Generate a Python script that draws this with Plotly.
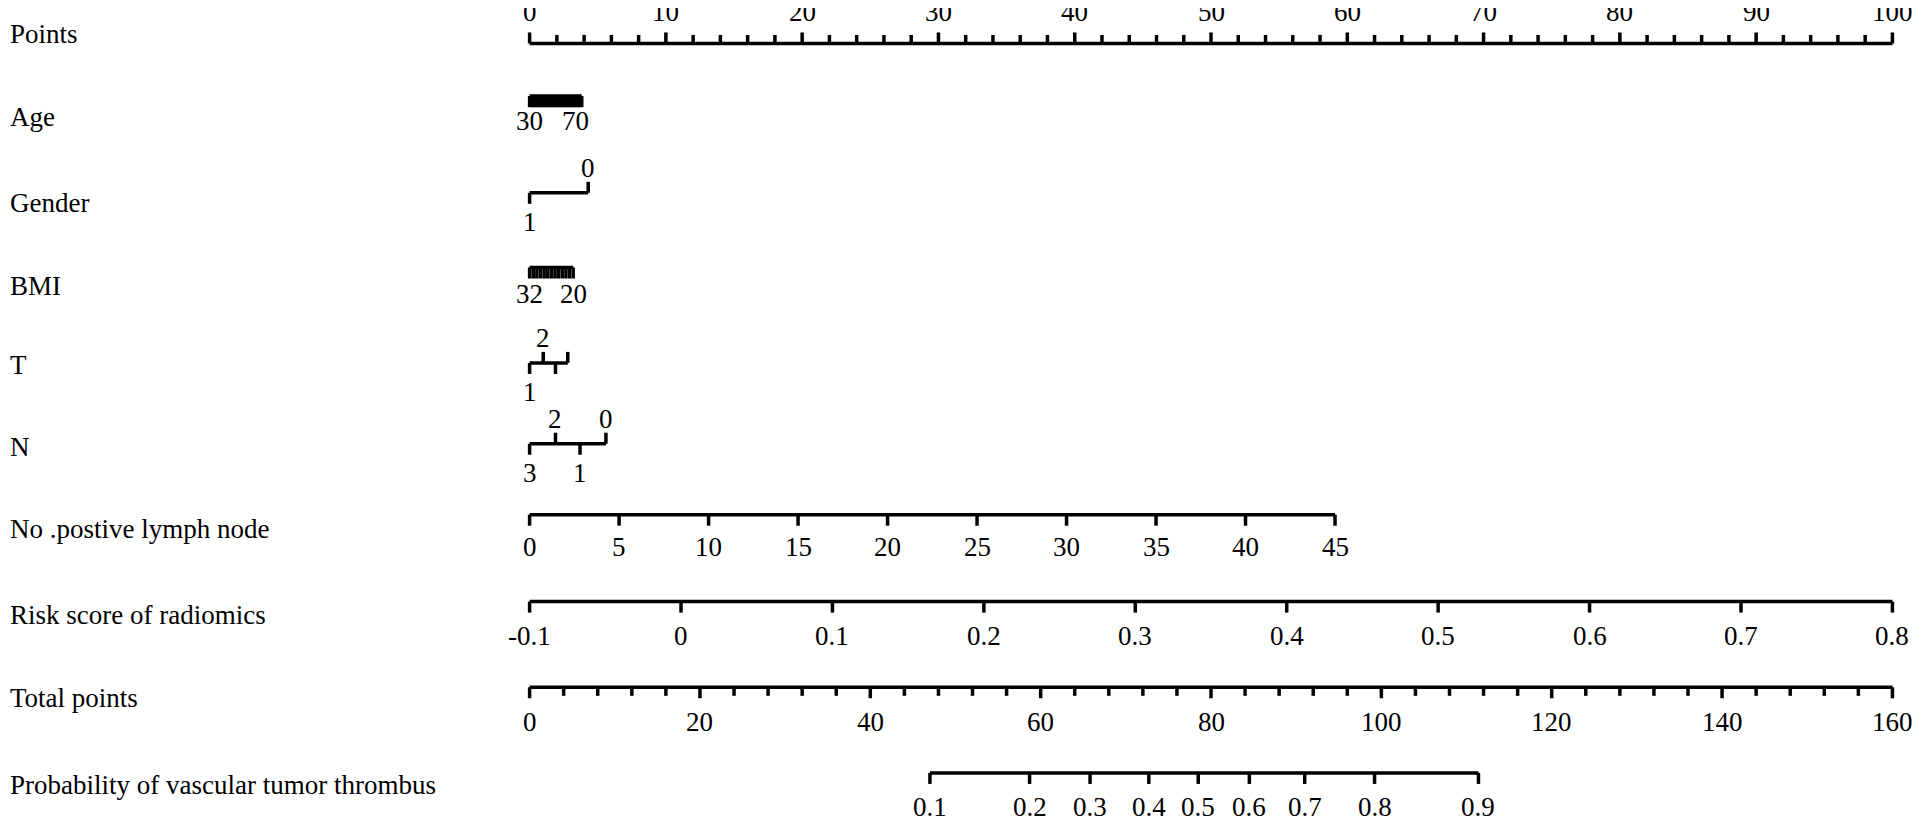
import plotly.graph_objects as go

# ---- data ----
row_names = ["Points", "Age", "Gender", "BMI", "T", "N", "No .postive lymph node",
             "Risk score of radiomics", "Total points", "Probability of vascular tumor thrombus"]

points_ticks = list(range(0, 101, 10))
points_minor = list(range(0, 101, 2))

age_vals = list(range(30, 76))
age_labels = [30, 70]
age_pts_per_year = 3.4 / 40

gender_vals = [1, 0]
gender_pts = [0, 4.3]

bmi_vals = list(range(32, 19, -1))
bmi_labels = [32, 20]
bmi_pts_per_unit = 3.2 / 12

t_vals = [1, 2, 3, 4]
t_pts = [0, 1.0, 1.9, 2.8]
t_shown = [1, 2]

n_vals = [3, 2, 1, 0]
n_pts = [0, 1.9, 3.7, 5.6]

lymph_ticks = list(range(0, 46, 5))
lymph_max_pts = 59.1

risk_ticks = [-0.1, 0, 0.1, 0.2, 0.3, 0.4, 0.5, 0.6, 0.7, 0.8]

total_ticks = list(range(0, 161, 20))
total_minor = list(range(0, 161, 4))

prob_vals = [0.1, 0.2, 0.3, 0.4, 0.5, 0.6, 0.7, 0.8, 0.9]
prob_total = [47.0, 58.7, 65.8, 72.7, 78.5, 84.5, 91.0, 99.2, 111.4]

row_y = [35, 78, 157, 218, 296, 362, 420, 491, 561, 631]
name_y = [27, 95, 165, 233, 298, 365, 432, 502, 570, 641]

# ---- build ----
SHIFT = 6
fig = go.Figure()
shapes, ann = [], []
FONT = dict(family="Liberation Serif", size=27, color="black")
LW = 3.5
TL = 9

def Y(y):
    return y - SHIFT

def axis_line(x0, x1, y):
    fig.add_trace(go.Scatter(x=[x0, x1], y=[Y(y), Y(y)], mode="lines",
                             line=dict(color="black", width=LW), hoverinfo="skip", showlegend=False))

def tick(x, y, up, length=TL):
    y2 = y - length if up else y + length
    shapes.append(dict(type="line", x0=x, x1=x, y0=Y(y), y1=Y(y2), xref="x", yref="y",
                       line=dict(color="black", width=LW)))

def label(x, y, txt, up, off=None):
    if off is None:
        off = 20 if up else 24
    ann.append(dict(x=x, y=Y(y - off if up else y + off), text=str(txt), showarrow=False,
                    xref="x", yref="y", font=FONT, xanchor="center", yanchor="middle"))

# Points
y = row_y[0]
axis_line(0, 100, y)
for v in points_minor:
    tick(v, y, True, TL if v % 10 == 0 else 7)
for v in points_ticks:
    label(v, y, v, True, 26)

# Age
y = row_y[1]
axis_line(0, (age_vals[-1] - 30) * age_pts_per_year, y)
for v in age_vals:
    tick((v - 30) * age_pts_per_year, y, False)
for v in age_labels:
    label((v - 30) * age_pts_per_year, y, v, False, 20)

# Gender
y = row_y[2]
axis_line(gender_pts[0], gender_pts[-1], y)
for i, (v, p) in enumerate(zip(gender_vals, gender_pts)):
    up = i % 2 == 1
    tick(p, y, up)
    label(p, y, v, up)

# BMI
y = row_y[3]
axis_line(0, (32 - bmi_vals[-1]) * bmi_pts_per_unit, y)
for v in bmi_vals:
    tick((32 - v) * bmi_pts_per_unit, y, False)
for v in bmi_labels:
    label((32 - v) * bmi_pts_per_unit, y, v, False, 22)

# T
y = row_y[4]
axis_line(t_pts[0], t_pts[-1], y)
for i, (v, p) in enumerate(zip(t_vals, t_pts)):
    up = i % 2 == 1
    tick(p, y, up)
    if v in t_shown:
        label(p, y, v, up)

# N
y = row_y[5]
axis_line(n_pts[0], n_pts[-1], y)
for i, (v, p) in enumerate(zip(n_vals, n_pts)):
    up = i % 2 == 1
    tick(p, y, up)
    label(p, y, v, up)

# Lymph nodes
y = row_y[6]
axis_line(0, lymph_max_pts, y)
for v in lymph_ticks:
    p = v / 45 * lymph_max_pts
    tick(p, y, False)
    label(p, y, v, False, 26)

# Risk score
y = row_y[7]
axis_line(0, 100, y)
for v in risk_ticks:
    p = (v + 0.1) / 0.9 * 100
    tick(p, y, False)
    label(p, y, f"{v:g}", False, 28)

# Total points
y = row_y[8]
axis_line(0, 100, y)
for v in total_minor:
    tick(v / 1.6, y, False, TL if v % 20 == 0 else 7)
for v in total_ticks:
    label(v / 1.6, y, v, False, 28)

# Probability
y = row_y[9]
axis_line(prob_total[0] / 1.6, prob_total[-1] / 1.6, y)
for v, t in zip(prob_vals, prob_total):
    tick(t / 1.6, y, False)
    label(t / 1.6, y, v, False, 28)

for name, yy in zip(row_names, name_y):
    ann.append(dict(x=0, y=Y(yy), text=name, showarrow=False, xref="paper", yref="y",
                    font=FONT, xanchor="left", yanchor="middle"))

span = 100 / (0.9853 - 0.2755)
xmin = -0.2755 * span + 0.54
fig.update_layout(
    width=1920, height=820, margin=dict(l=0, r=0, t=0, b=0),
    plot_bgcolor="white", paper_bgcolor="white",
    xaxis=dict(range=[xmin, xmin + span], visible=False, fixedrange=True),
    yaxis=dict(range=[670, 0], visible=False, fixedrange=True),
    shapes=shapes, annotations=ann,
)
fig.write_html("out.html")
